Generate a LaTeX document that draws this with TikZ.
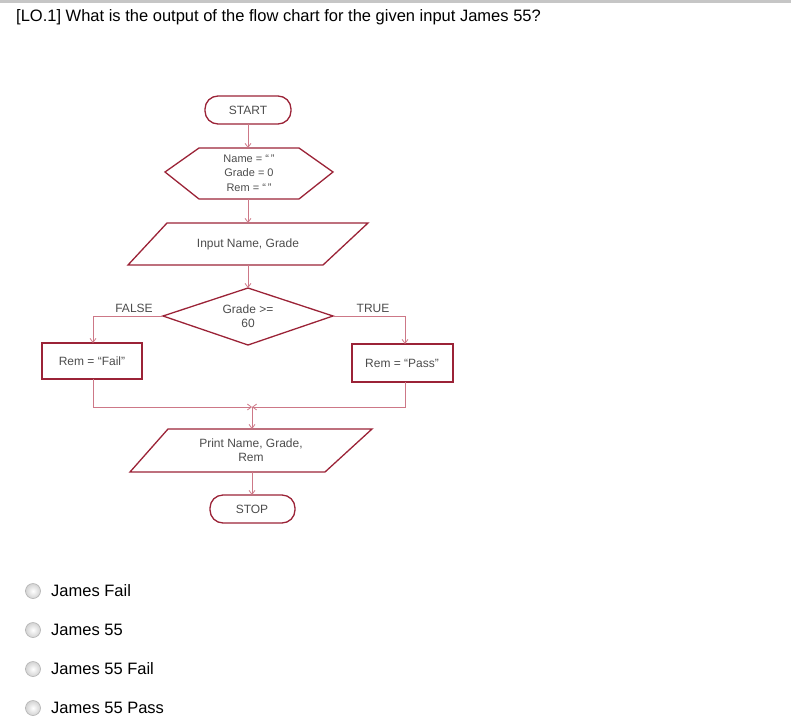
\documentclass[tikz,border=0pt]{standalone}
\usepackage{fontspec}
\setmainfont{Liberation Sans}
\usetikzlibrary{arrows.meta,shapes.geometric}
\definecolor{shp}{RGB}{155,35,55}
\definecolor{con}{RGB}{205,120,135}
\begin{document}
\begin{tikzpicture}[x=1pt,y=-1pt,
  box/.style={draw=shp,line width=1.3pt},
  con/.style={draw=con,line width=0.8pt,-{Straight Barb[length=4pt,width=6pt]}},
  lab/.style={font=\fontsize{12}{13}\selectfont,text=black!70,align=center,inner sep=0pt},
  opt/.style={font=\fontsize{16.5}{18}\selectfont,anchor=west,inner sep=0pt}]
\useasboundingbox (0,0) rectangle (791,723);
\draw[gray!45,line width=2.5pt] (0,1.5) -- (791,1.5);
\node[anchor=west,inner sep=0pt,font=\fontsize{16.5}{18}\selectfont] (q) at (16,17) {[LO.1] What is the output of the flow chart for the given input James 55?};
% shapes
\draw[box,rounded corners=13pt] (205,96) rectangle (291,124);
\node[lab] (start) at (248,110) {START};
\draw[box] (165,172) -- (199,148) -- (299,148) -- (333,172) -- (299,199) -- (199,199) -- cycle;
\node[lab,font=\fontsize{11}{14.5}\selectfont] (init) at (249,173) {Name = ``\,''\\Grade = 0\\Rem = ``\,''};
\draw[box] (167,223) -- (368,223) -- (323,265) -- (128,265) -- cycle;
\node[lab] (inp) at (248,244) {Input Name, Grade};
\draw[box] (163,316) -- (248,288) -- (333,316) -- (248,345) -- cycle;
\node[lab,font=\fontsize{12}{14.5}\selectfont] (dec) at (248,316) {Grade >=\\60};
\coordinate (dl) at (163,316); \coordinate (dr) at (333,316);
\draw[box] (42,343) rectangle (142,379);
\node[lab] (fail) at (92,361) {Rem = “Fail”};
\draw[box] (352,344) rectangle (453,382);
\node[lab] (pass) at (402,363) {Rem = “Pass”};
\draw[box] (168,429) -- (372,429) -- (325,472) -- (130,472) -- cycle;
\node[lab,font=\fontsize{12}{14.5}\selectfont] (prt) at (251,450) {Print Name, Grade,\\Rem};
\draw[box,rounded corners=13pt] (210,495) rectangle (295,523);
\node[lab] (stop) at (252,509) {STOP};
\node[lab] (fl) at (134,308) {FALSE};
\node[lab] (tl) at (373,308) {TRUE};
% connectors
\coordinate (s1) at (248,124); \coordinate (h1) at (248,148);
\coordinate (h2) at (248,199); \coordinate (i1) at (248,223);
\coordinate (i2) at (248,265); \coordinate (d1) at (248,288);
\coordinate (f1) at (93,343); \coordinate (p1) at (405,344);
\coordinate (f2) at (93,379); \coordinate (p2) at (405,382);
\coordinate (m) at (252,407); \coordinate (pr1) at (252,429);
\coordinate (pr2) at (252,472); \coordinate (st1) at (252,495);
\path[con] (s1) -- (h1);
\path[con] (h2) -- (i1);
\path[con] (i2) -- (d1);
\path[con] (dl) -| (f1);
\path[con] (dr) -| (p1);
\path[con] (f2) |- (m);
\path[con] (p2) |- (m);
\path[con] (m) -- (pr1);
\path[con] (pr2) -- (st1);
% options
\foreach \y/\t/\n in {591/James Fail/o1,630/James 55/o2,669/James 55 Fail/o3,708/James 55 Pass/o4}{
  \shade[inner color=white,outer color=gray!35] (33,\y) circle (7.5);
  \draw[gray!60,line width=0.6pt] (33,\y) circle (7.5);
  \node[opt] (\n) at (51,\y) {\t};
}
\end{tikzpicture}
\end{document}
